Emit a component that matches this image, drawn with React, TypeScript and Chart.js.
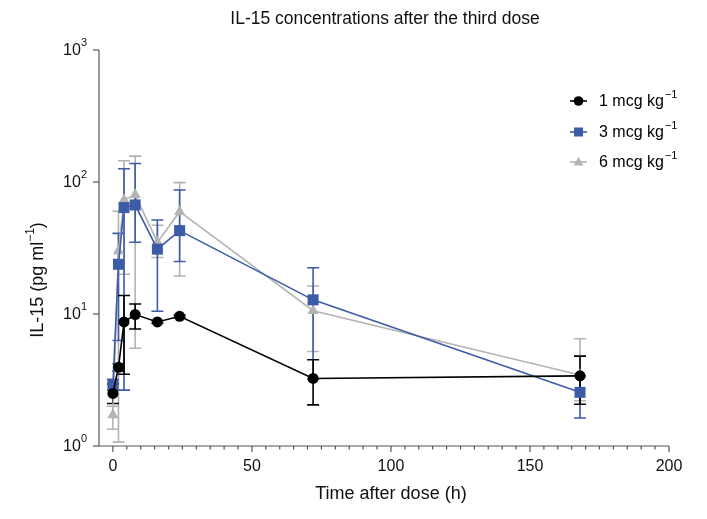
import React, { useEffect, useRef } from "react";
import { Chart, registerables } from "chart.js";

Chart.register(...registerables);

const times = [0, 2, 4, 8, 16, 24, 72, 168];

const dose1 = [2.5, 3.95, 8.7, 9.9, 8.7, 9.6, 3.25, 3.4];
const dose1Low = [2.1, 3.7, 3.5, 7.7, 8.5, 9.4, 2.05, 2.07];
const dose1High = [2.95, 4.2, 13.8, 11.9, 8.9, 9.8, 4.5, 4.8];

const dose3 = [2.9, 23.8, 64, 67, 31, 42.8, 12.8, 2.55];
const dose3Low = [2.65, 6.3, 2.65, 35, 10.5, 25, 3.2, 1.63];
const dose3High = [3.2, 40.8, 126, 138, 51.5, 87, 22.4, 3.4];

const dose6 = [1.72, 30, 73, 80, 35, 59.6, 10.6, 3.45];
const dose6Low = [1.34, 1.07, 20, 5.5, 26.8, 19.4, 5.2, 2.2];
const dose6High = [2.0, 60, 145, 157, 47, 99, 16.3, 6.5];

const seriesLabels = ["1 mcg kg", "3 mcg kg", "6 mcg kg"];
const yTicks = [1, 10, 100, 1000];
const yTickExp = ["0", "1", "2", "3"];
const xMajorTicks = [0, 50, 100, 150, 200];

const colors = ["#000000", "#3d5ca8", "#b3b3b3"];
const FONT = '"Liberation Sans", Arial, sans-serif';

export default function App() {
  const ref = useRef<HTMLCanvasElement | null>(null);
  useEffect(() => {
    if (!ref.current) return;
    const lows = [dose1Low, dose3Low, dose6Low];
    const highs = [dose1High, dose3High, dose6High];

    const drawPlugin = {
      id: "custom",
      beforeDatasetsDraw(chart: any) {
        const ctx = chart.ctx;
        const xs = chart.scales.x;
        const ys = chart.scales.y;
        ctx.save();
        for (let d = 2; d >= 0; d--) {
          ctx.strokeStyle = colors[d];
          ctx.lineWidth = 1.6;
          for (let i = 0; i < times.length; i++) {
            const x = xs.getPixelForValue(times[i]);
            const y1 = ys.getPixelForValue(lows[d][i]);
            const y2 = ys.getPixelForValue(highs[d][i]);
            ctx.beginPath();
            ctx.moveTo(x, y1);
            ctx.lineTo(x, y2);
            ctx.moveTo(x - 6, y1);
            ctx.lineTo(x + 6, y1);
            ctx.moveTo(x - 6, y2);
            ctx.lineTo(x + 6, y2);
            ctx.stroke();
          }
        }
        ctx.restore();
      },
      afterDraw(chart: any) {
        const ctx = chart.ctx;
        const xs = chart.scales.x;
        const ys = chart.scales.y;
        const area = chart.chartArea;
        ctx.save();
        // axes
        ctx.strokeStyle = "#555";
        ctx.lineWidth = 1.2;
        ctx.beginPath();
        ctx.moveTo(area.left, area.top);
        ctx.lineTo(area.left, area.bottom);
        ctx.lineTo(xs.getPixelForValue(200), area.bottom);
        ctx.stroke();
        // y ticks
        ctx.fillStyle = "#111";
        for (let i = 0; i < yTicks.length; i++) {
          const y = ys.getPixelForValue(yTicks[i]);
          ctx.beginPath();
          ctx.moveTo(area.left - 6, y);
          ctx.lineTo(area.left, y);
          ctx.stroke();
          ctx.textBaseline = "middle";
          ctx.textAlign = "right";
          ctx.font = `11px ${FONT}`;
          const expW = ctx.measureText(yTickExp[i]).width;
          ctx.fillText(yTickExp[i], area.left - 12, y - 7);
          ctx.font = `16px ${FONT}`;
          ctx.fillText("10", area.left - 12 - expW, y + 1);
        }
        // x ticks
        for (let v = 0; v <= 200; v += 5) {
          const x = xs.getPixelForValue(v);
          const major = v % 50 === 0;
          ctx.beginPath();
          ctx.moveTo(x, area.bottom);
          ctx.lineTo(x, area.bottom + (major ? 6 : 3.5));
          ctx.stroke();
        }
        ctx.font = `16px ${FONT}`;
        ctx.textAlign = "center";
        ctx.textBaseline = "middle";
        for (const v of xMajorTicks) {
          ctx.fillText(String(v), xs.getPixelForValue(v), area.bottom + 21);
        }
        // x title
        ctx.font = `18px ${FONT}`;
        ctx.fillText("Time after dose (h)", xs.getPixelForValue(100), area.bottom + 48);
        // title
        ctx.font = `17.5px ${FONT}`;
        ctx.fillText("IL-15 concentrations after the third dose", 385, 19);
        // y title
        ctx.save();
        ctx.translate(38, 280);
        ctx.rotate(-Math.PI / 2);
        ctx.textAlign = "left";
        ctx.font = `18px ${FONT}`;
        const p1 = "IL-15 (pg ml";
        const w1 = ctx.measureText(p1).width;
        ctx.font = `12px ${FONT}`;
        const w2 = ctx.measureText("\u22121").width;
        ctx.font = `18px ${FONT}`;
        const w3 = ctx.measureText(")").width;
        const total = w1 + w2 + w3;
        const sx = -total / 2;
        ctx.fillText(p1, sx, 0);
        ctx.font = `12px ${FONT}`;
        ctx.fillText("\u22121", sx + w1, -7);
        ctx.font = `18px ${FONT}`;
        ctx.fillText(")", sx + w1 + w2, 0);
        ctx.restore();
        // legend
        const rows = [101, 132, 162];
        const styles = ["circle", "rect", "triangle"];
        for (let d = 0; d < 3; d++) {
          const y = rows[d];
          ctx.strokeStyle = colors[d];
          ctx.fillStyle = colors[d];
          ctx.lineWidth = 1.6;
          ctx.beginPath();
          ctx.moveTo(570, y);
          ctx.lineTo(587, y);
          ctx.stroke();
          ctx.beginPath();
          if (styles[d] === "circle") {
            ctx.arc(578.5, y, 4.8, 0, Math.PI * 2);
          } else if (styles[d] === "rect") {
            ctx.rect(574, y - 4.5, 9, 9);
          } else {
            ctx.moveTo(578.5, y - 5);
            ctx.lineTo(583.5, y + 3.5);
            ctx.lineTo(573.5, y + 3.5);
            ctx.closePath();
          }
          ctx.fill();
          ctx.fillStyle = "#000";
          ctx.textAlign = "left";
          ctx.font = `16px ${FONT}`;
          ctx.fillText(seriesLabels[d], 599, y + 1);
          const lw = ctx.measureText(seriesLabels[d]).width;
          ctx.font = `11px ${FONT}`;
          ctx.fillText("\u22121", 599 + lw + 1, y - 6);
        }
        ctx.restore();
      },
    };

    const mk = (label: string, data: number[], color: string, pointStyle: string, radius: number) => ({
      label,
      data: times.map((t, i) => ({ x: t, y: data[i] })),
      borderColor: color,
      backgroundColor: color,
      pointBackgroundColor: color,
      pointBorderColor: color,
      pointStyle,
      pointRadius: radius,
      pointBorderWidth: 0,
      borderWidth: 1.6,
      tension: 0,
    });

    const chart = new Chart(ref.current, {
      type: "line",
      data: {
        datasets: [
          mk(seriesLabels[0], dose1, colors[0], "circle", 5.5),
          mk(seriesLabels[1], dose3, colors[1], "rect", 7.8),
          mk(seriesLabels[2], dose6, colors[2], "triangle", 6.5),
        ],
      },
      options: {
        animation: false,
        responsive: false,
        devicePixelRatio: 1,
        layout: { padding: { left: 99, right: 38, top: 50, bottom: 73 } },
        plugins: { legend: { display: false }, tooltip: { enabled: false }, title: { display: false } },
        scales: {
          x: { type: "linear", min: -5, max: 200, display: false },
          y: { type: "logarithmic", min: 1, max: 1000, display: false },
        },
      } as any,
      plugins: [drawPlugin],
    });
    return () => chart.destroy();
  }, []);

  return (
    <div style={{ position: "fixed", left: 0, top: 0, width: 707, height: 519, background: "#fff" }}>
      <canvas ref={ref} width={707} height={519} style={{ width: 707, height: 519 }} />
    </div>
  );
}
